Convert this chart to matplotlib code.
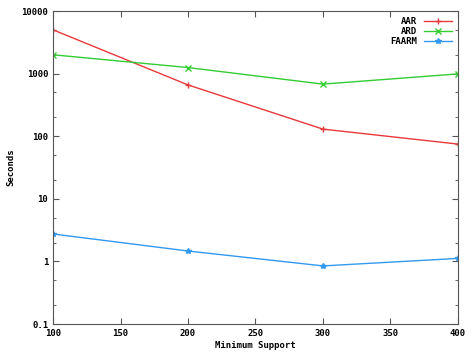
import matplotlib
matplotlib.use("Agg")
import matplotlib.pyplot as plt
from matplotlib.ticker import LogLocator, FixedLocator

support = [100, 200, 300, 400]
aar = [5000, 660, 130, 75]
ard = [2000, 1250, 680, 990]
faarm = [2.75, 1.47, 0.85, 1.12]

plt.rcParams["font.family"] = "DejaVu Sans Mono"
plt.rcParams["font.weight"] = "bold"
plt.rcParams["axes.labelweight"] = "bold"
plt.rcParams["font.size"] = 6.5

fig, ax = plt.subplots(figsize=(4.74, 3.55), dpi=100)
fig.subplots_adjust(left=0.112, right=0.966, top=0.969, bottom=0.087)

ax.plot(support, aar, color="#e8383a", marker="+", ms=5, lw=1, label="AAR")
ax.plot(support, ard, color="#33cc33", marker="x", ms=4, lw=1, label="ARD")
ax.plot(support, faarm, color="#3399ee", marker="*", ms=4, lw=1, label="FAARM")

ax.set_yscale("log")
ax.set_xlim(100, 400)
ax.set_ylim(0.1, 10000)
ax.xaxis.set_major_locator(FixedLocator([100, 150, 200, 250, 300, 350, 400]))
ax.yaxis.set_minor_locator(LogLocator(base=10, subs=(2, 5), numticks=10))
ax.set_yticks([0.1, 1, 10, 100, 1000, 10000])
ax.set_yticklabels(["0.1", "1", "10", "100", "1000", "10000"])
ax.yaxis.set_minor_formatter(plt.NullFormatter())

ax.tick_params(which="both", direction="in", top=True, right=True, color="#555555")
ax.tick_params(which="major", length=4)
ax.tick_params(which="minor", length=2)
for s in ax.spines.values():
    s.set_color("#555555")

ax.set_xlabel("Minimum Support", labelpad=2)
ax.set_ylabel("Seconds", labelpad=4)

ax.legend(loc="upper right", frameon=False, markerfirst=False, handlelength=3,
          labelspacing=0.1, borderaxespad=0.3)

fig.savefig("out.png", dpi=100)
